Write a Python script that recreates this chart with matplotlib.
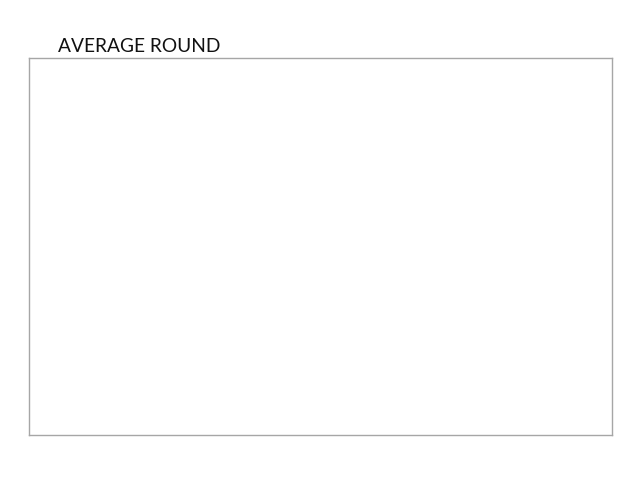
import matplotlib
matplotlib.use('Agg')
import matplotlib.pyplot as plt

# Diagramm ohne Datenpunkte: nur Titel und Rahmen
titel = "AVERAGE ROUND"
runden = []
werte = []

plt.rcParams['font.family'] = ['Lato', 'DejaVu Sans']

fig = plt.figure(figsize=(6.38, 4.93), dpi=100)
ax = fig.add_axes([29 / 638, 58 / 493, 583 / 638, 377 / 493])
ax.plot(runden, werte)
ax.set_xticks([])
ax.set_yticks([])
for spine in ax.spines.values():
    spine.set_color('#a6a6a6')
    spine.set_linewidth(1.0)

fig.text(58 / 638, (493 - 52) / 493, titel, fontsize=13.8, color='#111111',
         ha='left', va='baseline')

fig.savefig('out.png', dpi=100)
